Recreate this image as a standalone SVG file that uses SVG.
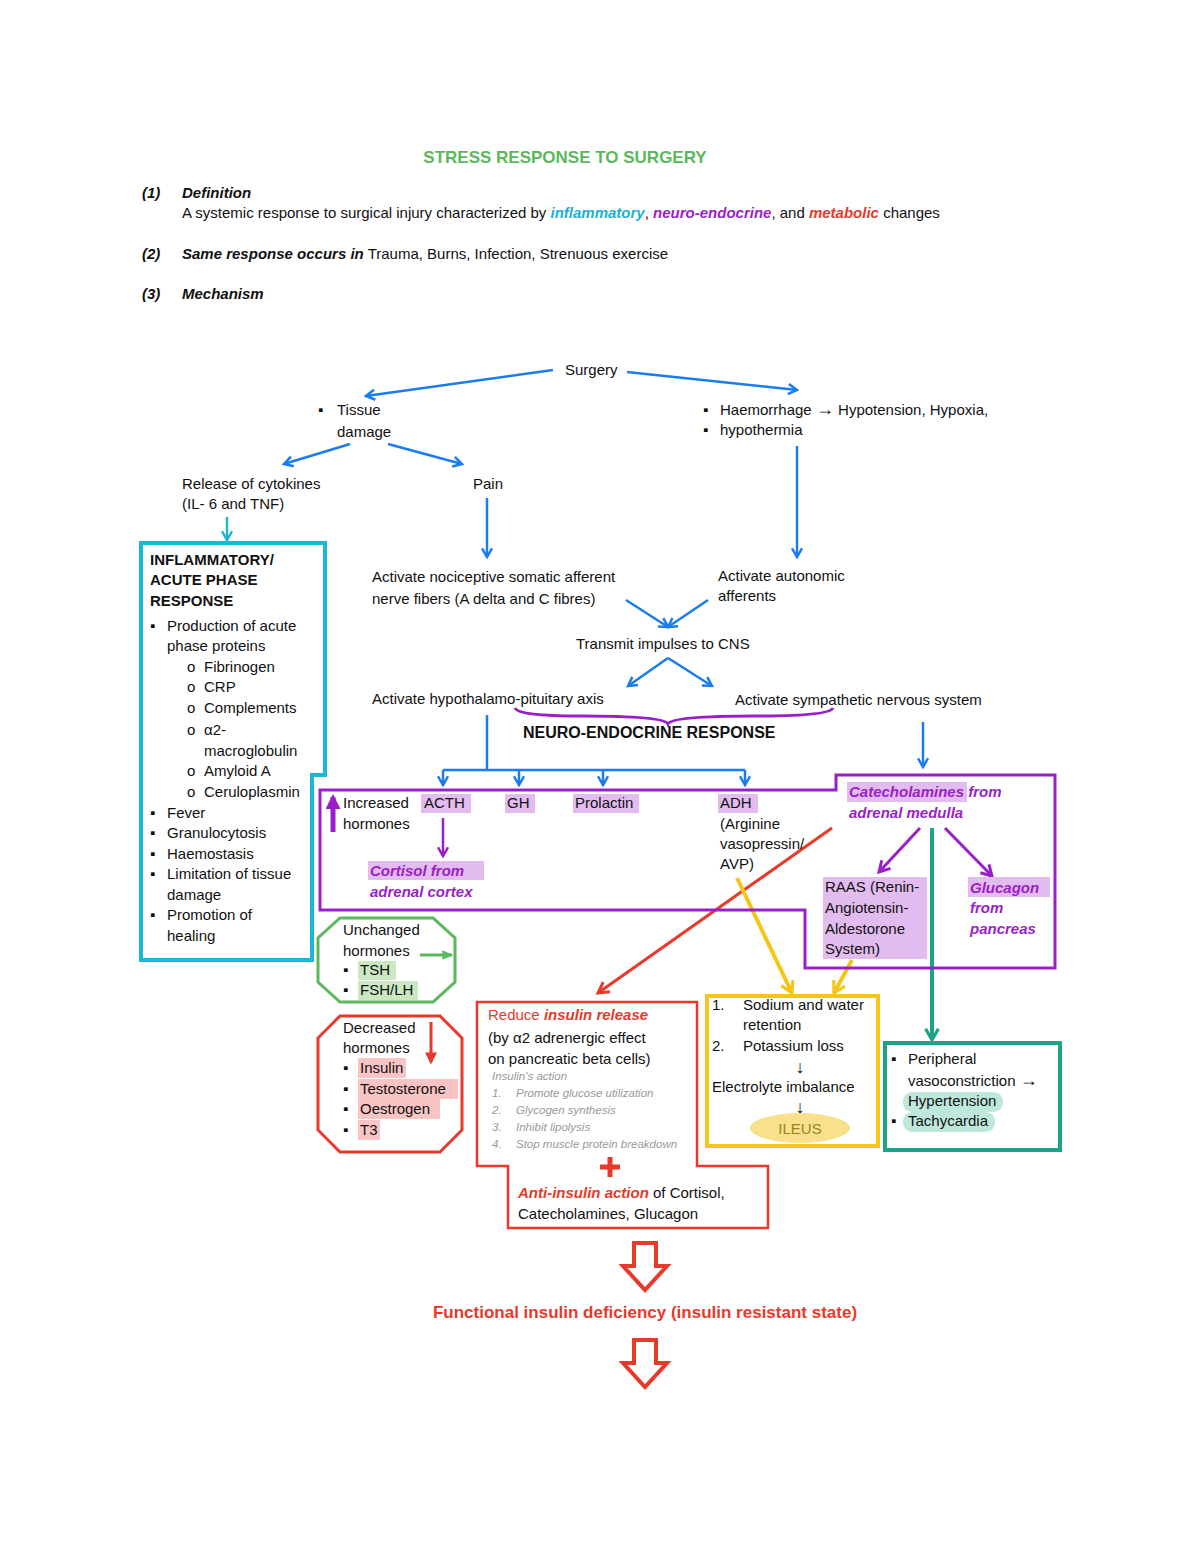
<svg xmlns="http://www.w3.org/2000/svg" width="1200" height="1553" viewBox="0 0 1200 1553">
<style>
text{font-family:"Liberation Sans",Arial,sans-serif;font-size:15px;fill:#111}
.b{font-weight:bold}.bi{font-weight:bold;font-style:italic}
.cy{fill:#1ab0d8}.pu{fill:#9b1fc8}.rd{fill:#e8392a}
.gr{fill:#999;font-style:italic;font-size:11.5px}
.ar{font-size:18px}
.bl{stroke:#1a7cf0;stroke-width:2.5;fill:none}
.hp{fill:#e3bcef}.hg{fill:#cbe8c3}.hr{fill:#f8c4c4}
</style>
<defs>
<marker id="ab" viewBox="0 0 10 10" refX="8" refY="5" markerWidth="5" markerHeight="5" orient="auto"><path d="M1,1 L8,5 L1,9" fill="none" stroke="#1a7cf0" stroke-width="2"/></marker>
<marker id="ap" viewBox="0 0 10 10" refX="8" refY="5" markerWidth="5" markerHeight="5" orient="auto"><path d="M1,1 L8,5 L1,9" fill="none" stroke="#9b1fc8" stroke-width="2"/></marker>
<marker id="ar" viewBox="0 0 10 10" refX="8" refY="5" markerWidth="5" markerHeight="5" orient="auto"><path d="M1,1 L8,5 L1,9" fill="none" stroke="#e8392a" stroke-width="2"/></marker>
<marker id="ay" viewBox="0 0 10 10" refX="8" refY="5" markerWidth="4" markerHeight="4" orient="auto"><path d="M1,1 L8,5 L1,9" fill="none" stroke="#f5c518" stroke-width="2"/></marker>
<marker id="at" viewBox="0 0 10 10" refX="8" refY="5" markerWidth="4" markerHeight="4" orient="auto"><path d="M1,1 L8,5 L1,9" fill="none" stroke="#1aa58a" stroke-width="2"/></marker>
<marker id="ac" viewBox="0 0 10 10" refX="8" refY="5" markerWidth="5" markerHeight="5" orient="auto"><path d="M1,1 L8,5 L1,9" fill="none" stroke="#1ab8d8" stroke-width="2"/></marker>
<marker id="ag" viewBox="0 0 10 10" refX="8" refY="5" markerWidth="4" markerHeight="4" orient="auto"><path d="M0,1 L9,5 L0,9Z" fill="#5cb85c"/></marker>
<marker id="arf" viewBox="0 0 10 10" refX="8" refY="5" markerWidth="4" markerHeight="4" orient="auto"><path d="M0,0 L10,5 L0,10Z" fill="#e8392a"/></marker>
<marker id="apf" viewBox="0 0 10 10" refX="8" refY="5" markerWidth="3" markerHeight="3" orient="auto"><path d="M0,0 L10,5 L0,10Z" fill="#9b1fc8"/></marker>
</defs>

<g id="header">
<text x="565" y="163" text-anchor="middle" class="b" style="fill:#5cb85c;font-size:17px">STRESS RESPONSE TO SURGERY</text>
<text x="142" y="198" class="bi">(1)</text><text x="182" y="198" class="bi">Definition</text>
<text x="182" y="218">A systemic response to surgical injury characterized by <tspan class="bi cy">inflammatory</tspan>, <tspan class="bi pu">neuro-endocrine</tspan>, and <tspan class="bi rd">metabolic</tspan> changes</text>
<text x="142" y="259" class="bi">(2)</text><text x="182" y="259"><tspan class="bi">Same response occurs in</tspan> Trauma, Burns, Infection, Strenuous exercise</text>
<text x="142" y="299" class="bi">(3)</text><text x="182" y="299" class="bi">Mechanism</text>
</g>

<g id="connectors">
<line class="bl" x1="553" y1="370" x2="366" y2="396" marker-end="url(#ab)"/>
<line class="bl" x1="627" y1="372" x2="797" y2="390" marker-end="url(#ab)"/>
<line class="bl" x1="350" y1="444" x2="284" y2="464" marker-end="url(#ab)"/>
<line class="bl" x1="388" y1="444" x2="462" y2="464" marker-end="url(#ab)"/>
<line x1="227" y1="517" x2="227" y2="540" stroke="#1ab8d8" stroke-width="2.5" marker-end="url(#ac)"/>
<line class="bl" x1="487" y1="498" x2="487" y2="557" marker-end="url(#ab)"/>
<line class="bl" x1="797" y1="446" x2="797" y2="557" marker-end="url(#ab)"/>
<line class="bl" x1="626" y1="600" x2="668" y2="627" marker-end="url(#ab)"/>
<line class="bl" x1="708" y1="600" x2="668" y2="627" marker-end="url(#ab)"/>
<line class="bl" x1="668" y1="658" x2="628" y2="686" marker-end="url(#ab)"/>
<line class="bl" x1="668" y1="658" x2="712" y2="686" marker-end="url(#ab)"/>
<path d="M515,708 Q518,716 580,716 Q665,716 668,724 Q671,716 756,716 Q830,716 833,708" fill="none" stroke="#9b1fc8" stroke-width="3"/>
<path class="bl" d="M487,715 V770 M443,770 H745"/>
<line class="bl" x1="443" y1="770" x2="443" y2="785" marker-end="url(#ab)"/>
<line class="bl" x1="519" y1="770" x2="519" y2="785" marker-end="url(#ab)"/>
<line class="bl" x1="603" y1="770" x2="603" y2="785" marker-end="url(#ab)"/>
<line class="bl" x1="745" y1="770" x2="745" y2="785" marker-end="url(#ab)"/>
<line class="bl" x1="923" y1="722" x2="923" y2="767" marker-end="url(#ab)"/>
<line x1="333" y1="832" x2="333" y2="797" stroke="#9b1fc8" stroke-width="5" marker-end="url(#apf)"/>
<line x1="443" y1="818" x2="443" y2="856" stroke="#9b1fc8" stroke-width="2.5" marker-end="url(#ap)"/>
<line x1="920" y1="828" x2="879" y2="872" stroke="#9b1fc8" stroke-width="3" marker-end="url(#ap)"/>
<line x1="945" y1="828" x2="992" y2="876" stroke="#9b1fc8" stroke-width="3" marker-end="url(#ap)"/>
<line x1="932" y1="828" x2="932" y2="1040" stroke="#1aa58a" stroke-width="4" marker-end="url(#at)"/>
<line x1="832" y1="828" x2="598" y2="993" stroke="#e8392a" stroke-width="3" marker-end="url(#ar)"/>
<line x1="737" y1="878" x2="792" y2="993" stroke="#f5c518" stroke-width="4" marker-end="url(#ay)"/>
<line x1="852" y1="960" x2="834" y2="993" stroke="#f5c518" stroke-width="4" marker-end="url(#ay)"/>
<line x1="420" y1="955" x2="452" y2="955" stroke="#5cb85c" stroke-width="3" marker-end="url(#ag)"/>
<line x1="431" y1="1022" x2="431" y2="1062" stroke="#e8392a" stroke-width="3" marker-end="url(#arf)"/>
<path d="M634,1243 H656 V1266 H667 L645,1290 L623,1266 H634Z" fill="none" stroke="#e8392a" stroke-width="4"/>
<path d="M634,1340 H656 V1363 H667 L645,1387 L623,1363 H634Z" fill="none" stroke="#e8392a" stroke-width="4"/>
</g>

<g id="n-surgery"><text x="565" y="375">Surgery</text></g>
<g id="n-tissue"><text x="318" y="415">▪</text><text x="337" y="415">Tissue</text><text x="337" y="437">damage</text></g>
<g id="n-haem"><text x="703" y="415">▪</text><text x="720" y="415">Haemorrhage <tspan class="ar">→</tspan> Hypotension, Hypoxia,</text><text x="703" y="435">▪</text><text x="720" y="435">hypothermia</text></g>
<g id="n-cyto"><text x="182" y="489">Release of cytokines</text><text x="182" y="509">(IL- 6 and TNF)</text></g>
<g id="n-pain"><text x="473" y="489">Pain</text></g>
<g id="n-noci"><text x="372" y="582">Activate nociceptive somatic afferent</text><text x="372" y="604">nerve fibers (A delta and C fibres)</text></g>
<g id="n-auto"><text x="718" y="581">Activate autonomic</text><text x="718" y="601">afferents</text></g>
<g id="n-cns"><text x="576" y="649">Transmit impulses to CNS</text></g>
<g id="n-hpa"><text x="372" y="704">Activate hypothalamo-pituitary axis</text></g>
<g id="n-sns"><text x="735" y="705">Activate sympathetic nervous system</text></g>
<g id="n-ner"><text x="523" y="738" class="b" style="font-size:16px">NEURO-ENDOCRINE RESPONSE</text></g>

<g id="n-inflam">
<path d="M141,543 H325 V775 H312 V960 H141Z" fill="none" stroke="#1ab8d8" stroke-width="4"/>
<text x="150" y="565" class="b">INFLAMMATORY/</text><text x="150" y="585" class="b">ACUTE PHASE</text><text x="150" y="606" class="b">RESPONSE</text>
<text x="150" y="631">▪</text><text x="167" y="631">Production of acute</text><text x="167" y="651">phase proteins</text>
<text x="187" y="672">o</text><text x="204" y="672">Fibrinogen</text>
<text x="187" y="692">o</text><text x="204" y="692">CRP</text>
<text x="187" y="713">o</text><text x="204" y="713">Complements</text>
<text x="187" y="735">o</text><text x="204" y="735">α2-</text><text x="204" y="756">macroglobulin</text>
<text x="187" y="776">o</text><text x="204" y="776">Amyloid A</text>
<text x="187" y="797">o</text><text x="204" y="797">Ceruloplasmin</text>
<text x="150" y="818">▪</text><text x="167" y="818">Fever</text>
<text x="150" y="838">▪</text><text x="167" y="838">Granulocytosis</text>
<text x="150" y="859">▪</text><text x="167" y="859">Haemostasis</text>
<text x="150" y="879">▪</text><text x="167" y="879">Limitation of tissue</text><text x="167" y="900">damage</text>
<text x="150" y="920">▪</text><text x="167" y="920">Promotion of</text><text x="167" y="941">healing</text>
</g>

<g id="n-neuroendo">
<path d="M320,790 H836 V775 H1055 V968 H805 V910 H320Z" fill="none" stroke="#9b1fc8" stroke-width="3"/>
<text x="343" y="808">Increased</text><text x="343" y="829">hormones</text>
<rect class="hp" x="421" y="794" width="50" height="19"/><text x="424" y="808">ACTH</text>
<rect class="hp" x="505" y="794" width="30" height="19"/><text x="507" y="808">GH</text>
<rect class="hp" x="573" y="794" width="66" height="19"/><text x="575" y="808">Prolactin</text>
<rect class="hp" x="718" y="794" width="40" height="19"/><text x="720" y="808">ADH</text>
<text x="720" y="829">(Arginine</text><text x="720" y="849">vasopressin/</text><text x="720" y="869">AVP)</text>
<rect class="hp" x="368" y="861" width="116" height="19"/>
<text x="370" y="876" class="bi pu">Cortisol from</text><text x="370" y="897" class="bi pu">adrenal cortex</text>
<rect class="hp" x="847" y="782" width="120" height="20"/>
<text x="849" y="797" class="bi pu">Catecholamines from</text><text x="849" y="818" class="bi pu">adrenal medulla</text>
<rect class="hp" x="823" y="877" width="104" height="82"/>
<text x="825" y="892">RAAS (Renin-</text><text x="825" y="913">Angiotensin-</text><text x="825" y="934">Aldestorone</text><text x="825" y="954">System)</text>
<rect class="hp" x="968" y="877" width="82" height="20"/>
<text x="970" y="893" class="bi pu">Glucagon</text><text x="970" y="913" class="bi pu">from</text><text x="970" y="934" class="bi pu">pancreas</text>
</g>

<g id="n-unchanged">
<path d="M340,918 H433 L455,938 V982 L433,1002 H340 L318,982 V938Z" fill="none" stroke="#5cb85c" stroke-width="3"/>
<text x="343" y="935">Unchanged</text><text x="343" y="956">hormones</text>
<rect class="hg" x="358" y="961" width="38" height="19"/><rect class="hg" x="358" y="981" width="60" height="19"/>
<text x="343" y="975">▪</text><text x="360" y="975">TSH</text><text x="343" y="995">▪</text><text x="360" y="995">FSH/LH</text>
</g>

<g id="n-decreased">
<path d="M340,1016 H440 L462,1038 V1130 L440,1152 H340 L318,1130 V1038Z" fill="none" stroke="#e8392a" stroke-width="3"/>
<text x="343" y="1033">Decreased</text><text x="343" y="1053">hormones</text>
<rect class="hr" x="358" y="1058" width="48" height="20"/><rect class="hr" x="358" y="1079" width="100" height="20"/>
<rect class="hr" x="358" y="1099" width="82" height="20"/><rect class="hr" x="358" y="1120" width="22" height="20"/>
<text x="343" y="1073">▪</text><text x="360" y="1073">Insulin</text>
<text x="343" y="1094">▪</text><text x="360" y="1094">Testosterone</text>
<text x="343" y="1114">▪</text><text x="360" y="1114">Oestrogen</text>
<text x="343" y="1135">▪</text><text x="360" y="1135">T3</text>
</g>

<g id="n-insulin">
<path d="M477,1002 H697 V1166 H768 V1228 H508 V1166 H477Z" fill="none" stroke="#e8392a" stroke-width="2.5"/>
<text x="488" y="1020" class="rd">Reduce <tspan class="bi">insulin release</tspan></text>
<text x="488" y="1043">(by α2 adrenergic effect</text><text x="488" y="1064">on pancreatic beta cells)</text>
<text x="492" y="1080" class="gr">Insulin's action</text>
<text x="492" y="1097" class="gr">1.</text><text x="516" y="1097" class="gr">Promote glucose utilization</text>
<text x="492" y="1114" class="gr">2.</text><text x="516" y="1114" class="gr">Glycogen synthesis</text>
<text x="492" y="1131" class="gr">3.</text><text x="516" y="1131" class="gr">Inhibit lipolysis</text>
<text x="492" y="1148" class="gr">4.</text><text x="516" y="1148" class="gr">Stop muscle protein breakdown</text>
<path d="M610,1157 V1177 M600,1167 H620" stroke="#e8392a" stroke-width="5"/>
<text x="518" y="1198"><tspan class="bi rd">Anti-insulin action</tspan> of Cortisol,</text>
<text x="518" y="1219">Catecholamines, Glucagon</text>
</g>

<g id="n-electro">
<rect x="707" y="996" width="171" height="150" fill="none" stroke="#f5c518" stroke-width="4"/>
<text x="712" y="1010">1.</text><text x="743" y="1010">Sodium and water</text><text x="743" y="1030">retention</text>
<text x="712" y="1051">2.</text><text x="743" y="1051">Potassium loss</text>
<text x="800" y="1073" text-anchor="middle" class="ar">↓</text>
<text x="712" y="1092">Electrolyte imbalance</text>
<text x="800" y="1113" text-anchor="middle" class="ar">↓</text>
<ellipse cx="800" cy="1128" rx="50" ry="15" fill="#f9e08a"/>
<text x="800" y="1134" text-anchor="middle" style="fill:#a08020">ILEUS</text>
</g>

<g id="n-vaso">
<rect x="885" y="1043" width="175" height="107" fill="none" stroke="#1aa58a" stroke-width="4"/>
<rect x="903" y="1092" width="100" height="20" rx="9" fill="#bfe8dd"/><rect x="903" y="1112" width="92" height="20" rx="9" fill="#bfe8dd"/>
<text x="891" y="1064">▪</text><text x="908" y="1064">Peripheral</text><text x="908" y="1086">vasoconstriction <tspan class="ar">→</tspan></text>
<text x="908" y="1106">Hypertension</text>
<text x="891" y="1126">▪</text><text x="908" y="1126">Tachycardia</text>
</g>

<g id="n-functional"><text x="645" y="1318" text-anchor="middle" class="b rd" style="font-size:17px">Functional insulin deficiency (insulin resistant state)</text></g>
</svg>
